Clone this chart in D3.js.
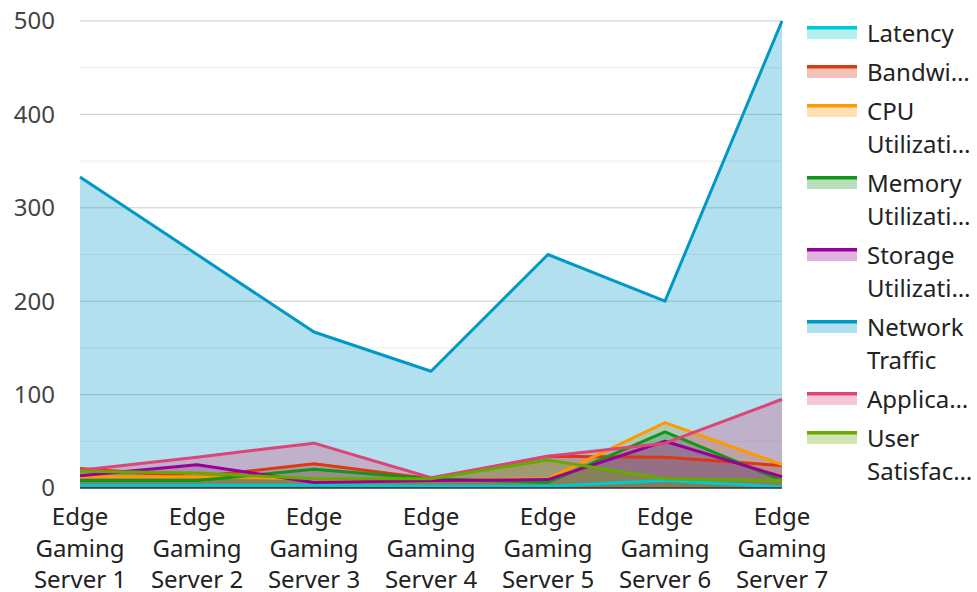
<!DOCTYPE html>
<html>
<head>
<meta charset="utf-8">
<script src="https://cdn.jsdelivr.net/npm/d3@7"></script>
<style>
  body { margin: 0; background: #fff; }
  svg { font-family: "Noto Sans", sans-serif; }
</style>
</head>
<body>
<div id="chart"></div>
<script>
// categories and series values
const servers = ["Edge Gaming Server 1", "Edge Gaming Server 2", "Edge Gaming Server 3",
  "Edge Gaming Server 4", "Edge Gaming Server 5", "Edge Gaming Server 6", "Edge Gaming Server 7"];
const seriesNames = ["Latency", "Bandwidth", "CPU Utilization", "Memory Utilization",
  "Storage Utilization", "Network Traffic", "Application Response Time", "User Satisfaction"];
const legendLabels = [["Latency"], ["Bandwi…"], ["CPU", "Utilizati…"], ["Memory", "Utilizati…"],
  ["Storage", "Utilizati…"], ["Network", "Traffic"], ["Applica…"], ["User", "Satisfac…"]];
const latency = [3, 3, 3, 2, 2, 8, 1];
const bandwidth = [21, 12, 26, 10, 34, 33, 24];
const cpu = [12, 12, 10, 8, 10, 70, 25];
const memory = [8, 8, 20, 10, 6, 60, 8];
const storage = [13, 25, 6, 8, 9, 50, 12];
const network = [333, 250, 167, 125, 250, 200, 500];
const application = [19, 33, 48, 11, 34, 48, 95];
const satisfaction = [18, 16, 10, 10, 30, 10, 8];
const colors = ["#00c9d0", "#dc3912", "#ff9900", "#109618", "#990099", "#0099c6", "#dd4477", "#66aa00"];
const yTicks = [0, 100, 200, 300, 400, 500];

const allSeries = [latency, bandwidth, cpu, memory, storage, network, application, satisfaction];

document.addEventListener("DOMContentLoaded", function() {
  const width = 977, height = 592;
  const margin = { left: 80, right: 195, top: 21, bottom: 104 };
  const fontSize = 24;

  const svg = d3.select("#chart").append("svg")
    .attr("width", width)
    .attr("height", height);

  const x = d3.scalePoint()
    .domain(servers)
    .range([margin.left, width - margin.right]);

  const y = d3.scaleLinear()
    .domain([0, 500])
    .range([height - margin.bottom, margin.top]);

  // grid lines, minor every 50 and major every 100
  svg.append("g").selectAll("line")
    .data(d3.range(50, 501, 50))
    .join("line")
    .attr("x1", margin.left).attr("x2", width - margin.right)
    .attr("y1", d => y(d)).attr("y2", d => y(d))
    .attr("stroke", d => d % 100 === 0 ? "#cccccc" : "#ebebeb")
    .attr("stroke-width", 1);

  const area = d3.area()
    .x((d, i) => x(servers[i]))
    .y0(y(0))
    .y1(d => y(d));

  const line = d3.line()
    .x((d, i) => x(servers[i]))
    .y(d => y(d));

  const g = svg.append("g");
  allSeries.forEach((vals, k) => {
    g.append("path")
      .attr("d", area(vals))
      .attr("fill", colors[k])
      .attr("fill-opacity", 0.3);
  });
  allSeries.forEach((vals, k) => {
    g.append("path")
      .attr("d", line(vals))
      .attr("fill", "none")
      .attr("stroke", colors[k])
      .attr("stroke-width", 3)
      .attr("stroke-linejoin", "round");
  });

  // baseline
  svg.append("line")
    .attr("x1", margin.left).attr("x2", width - margin.right)
    .attr("y1", y(0)).attr("y2", y(0))
    .attr("stroke", "#333").attr("stroke-width", 1.5);

  // y axis labels
  svg.append("g").selectAll("text")
    .data(yTicks)
    .join("text")
    .attr("x", 55)
    .attr("y", d => y(d))
    .attr("dy", "0.35em")
    .attr("text-anchor", "end")
    .attr("font-size", fontSize)
    .attr("fill", "#444")
    .text(d => d);

  // x axis labels in three lines
  const xl = svg.append("g").selectAll("text")
    .data(servers)
    .join("text")
    .attr("text-anchor", "middle")
    .attr("font-size", fontSize)
    .attr("fill", "#222");
  xl.each(function(d) {
    const parts = ["Edge", "Gaming", d.replace("Edge Gaming ", "")];
    d3.select(this).selectAll("tspan")
      .data(parts)
      .join("tspan")
      .attr("x", x(d))
      .attr("y", (p, i) => 525 + i * 31.5)
      .text(p => p);
  });

  // legend
  const legend = svg.append("g");
  let ly = 26;
  legendLabels.forEach((lines, k) => {
    const item = legend.append("g").attr("transform", `translate(807,${ly})`);
    item.append("rect")
      .attr("x", 0).attr("y", 0).attr("width", 50).attr("height", 13)
      .attr("fill", colors[k]).attr("fill-opacity", 0.3);
    item.append("rect")
      .attr("x", 0).attr("y", 0).attr("width", 50).attr("height", 3.5)
      .attr("fill", colors[k]);
    lines.forEach((t, i) => {
      item.append("text")
        .attr("x", 60)
        .attr("y", 16 + i * 33)
        .attr("font-size", fontSize)
        .attr("fill", "#222")
        .text(t);
    });
    ly += lines.length * 33 + 6;
  });
});
</script>
</body>
</html>
